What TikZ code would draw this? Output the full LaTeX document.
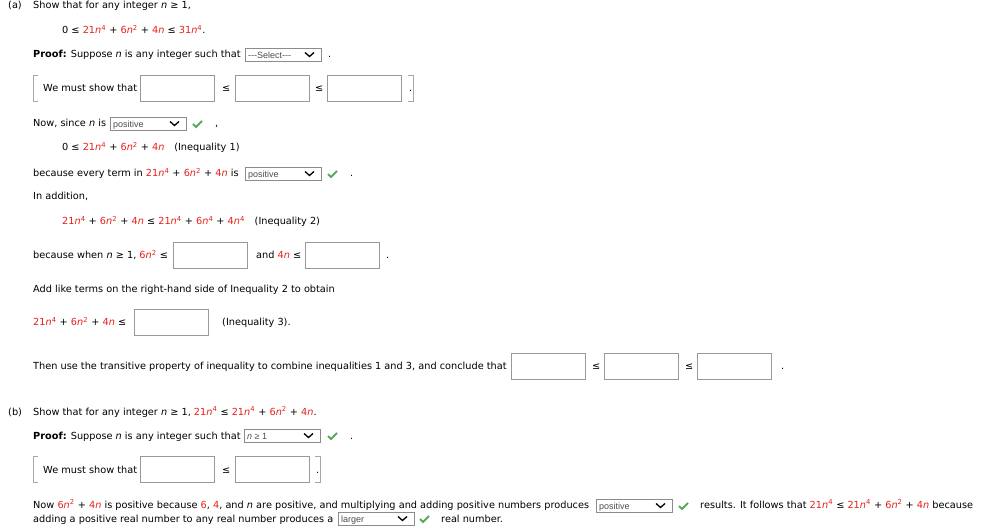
\documentclass[tikz,border=0pt]{standalone}
\usepackage{fontspec}
\setmainfont{DejaVu Sans}
\newfontfamily\ddfont{Liberation Sans}
\definecolor{mred}{HTML}{E8201A}
\definecolor{okgreen}{HTML}{5AA85A}
\newcommand{\R}[1]{\textcolor{mred}{#1}}
\newcommand{\N}{\textit{n}}
\newcommand{\sps}[1]{\textsuperscript{#1}}
\begin{document}
\begin{tikzpicture}[x=1pt,y=-1pt,font=\fontsize{9.75}{11}\selectfont,
  t/.style={anchor=base west,inner sep=0pt},
  ibox/.style={draw=gray!80,line width=0.8pt,minimum width=74pt,minimum height=26pt,inner sep=0pt,anchor=north west},
  dbox/.style={draw=gray!90,line width=0.7pt,minimum width=76pt,minimum height=13pt,inner sep=0pt,anchor=north west},
  brk/.style={draw=gray!70,line width=0.8pt}]
\useasboundingbox (0,0) rectangle (1002,529);
\newcommand{\dd}[4]{%
 \node[dbox] (#1) at (#2,#3) {};
 \node[t,font=\ddfont\fontsize{9}{10}\selectfont,text=gray!60!black] at (#2+3,#3+10.5) {#4};
 \draw[line width=1.3pt] (#2+60,#3+4.5) -- (#2+64.5,#3+8.5) -- (#2+69,#3+4.5);}
\newcommand{\chk}[3]{\coordinate (#1) at (#2,#3);
 \draw[okgreen,line width=1.8pt] (#2,#3) -- (#2+3,#3+3) -- (#2+9,#3-3);}
% (a)
\node[t] (pa) at (8,9) {(a)};
\node[t] (a1) at (33,9) {Show that for any integer \N{} ≥ 1,};
\node[t] (a2) at (62,34) {0 ≤ \R{21\N\sps4} + \R{6\N\sps2} + \R{4\N} ≤ \R{31\N\sps4}.};
\node[t] (a3) at (33,58) {\textbf{Proof:} Suppose \N{} is any integer such that};
\dd{d1}{245}{48}{---Select---}
\node[t] at (328,58) {.};
\draw[brk] (38,75) -- (33,75) -- (33,101) -- (38,101);
\node[t] (a4) at (43,92) {We must show that};
\node[ibox] (b1) at (140,75) {}; \node[t] at (222,92) {≤};
\node[ibox] (b2) at (235,75) {}; \node[t] at (315,92) {≤};
\node[ibox] (b3) at (327,75) {}; \node[t] at (409,92) {.};
\draw[brk] (408,75) -- (413,75) -- (413,101) -- (408,101);
\node[t] (a5) at (33,127) {Now, since \N{} is};
\dd{d2}{110}{117}{positive}
\chk{c2}{193}{124}
\node[t] at (215,127) {,};
\node[t] (a6) at (62,151) {0 ≤ \R{21\N\sps4} + \R{6\N\sps2} + \R{4\N}\quad(Inequality 1)};
\node[t] (a7) at (33,177) {because every term in \R{21\N\sps4} + \R{6\N\sps2} + \R{4\N} is};
\dd{d3}{245}{167}{positive}
\chk{c3}{328}{174}
\node[t] at (350,177) {.};
\node[t] (a8) at (33,200) {In addition,};
\node[t] (a9) at (62,225) {\R{21\N\sps4} + \R{6\N\sps2} + \R{4\N} ≤ \R{21\N\sps4} + \R{6\N\sps4} + \R{4\N\sps4}\quad(Inequality 2)};
\node[t] (a10) at (33,259) {because when \N{} ≥ 1, \R{6\N\sps2} ≤};
\node[ibox] (b4) at (173,242) {};
\node[t] at (256,259) {and \R{4\N} ≤};
\node[ibox] (b5) at (305,242) {};
\node[t] at (386,259) {.};
\node[t] (a11) at (33,293) {Add like terms on the right-hand side of Inequality 2 to obtain};
\node[t] (a12) at (33,326) {\R{21\N\sps4} + \R{6\N\sps2} + \R{4\N} ≤};
\node[ibox] (b6) at (134,309) {};
\node[t] at (222,326) {(Inequality 3).};
\node[t] (a13) at (33,370) {Then use the transitive property of inequality to combine inequalities 1 and 3, and conclude that};
\node[ibox] (b7) at (511,353) {}; \node[t] at (592,370) {≤};
\node[ibox] (b8) at (604,353) {}; \node[t] at (685,370) {≤};
\node[ibox] (b9) at (697,353) {}; \node[t] at (781,370) {.};
% (b)
\node[t] (pb) at (8,415) {(b)};
\node[t] (p1) at (33,415) {Show that for any integer \N{} ≥ 1, \R{21\N\sps4} ≤ \R{21\N\sps4} + \R{6\N\sps2} + \R{4\N}.};
\node[t] (p2) at (33,439) {\textbf{Proof:} Suppose \N{} is any integer such that};
\dd{d4}{244}{429}{\textit{n} ≥ 1}
\chk{c4}{328}{436}
\node[t] at (350,439) {.};
\draw[brk] (38,456) -- (33,456) -- (33,482) -- (38,482);
\node[t] (p3) at (43,473) {We must show that};
\node[ibox] (b10) at (140,456) {}; \node[t] at (222,473) {≤};
\node[ibox] (b11) at (235,456) {}; \node[t] at (316,473) {.};
\draw[brk] (315,456) -- (320,456) -- (320,482) -- (315,482);
\node[t] (p4) at (33,508) {Now \R{6\N\sps2} + \R{4\N} is positive because \R{6}, \R{4}, and \N{} are positive, and multiplying and adding positive numbers produces};
\dd{d5}{596}{499}{positive}
\chk{c5}{679}{506}
\node[t] (p5) at (700,508) {results. It follows that \R{21\N\sps4} ≤ \R{21\N\sps4} + \R{6\N\sps2} + \R{4\N} because};
\node[t] (p6) at (33,522) {adding a positive real number to any real number produces a};
\dd{d6}{338}{512}{larger}
\chk{c6}{420}{519}
\node[t] at (441,522) {real number.};
\end{tikzpicture}
\end{document}
